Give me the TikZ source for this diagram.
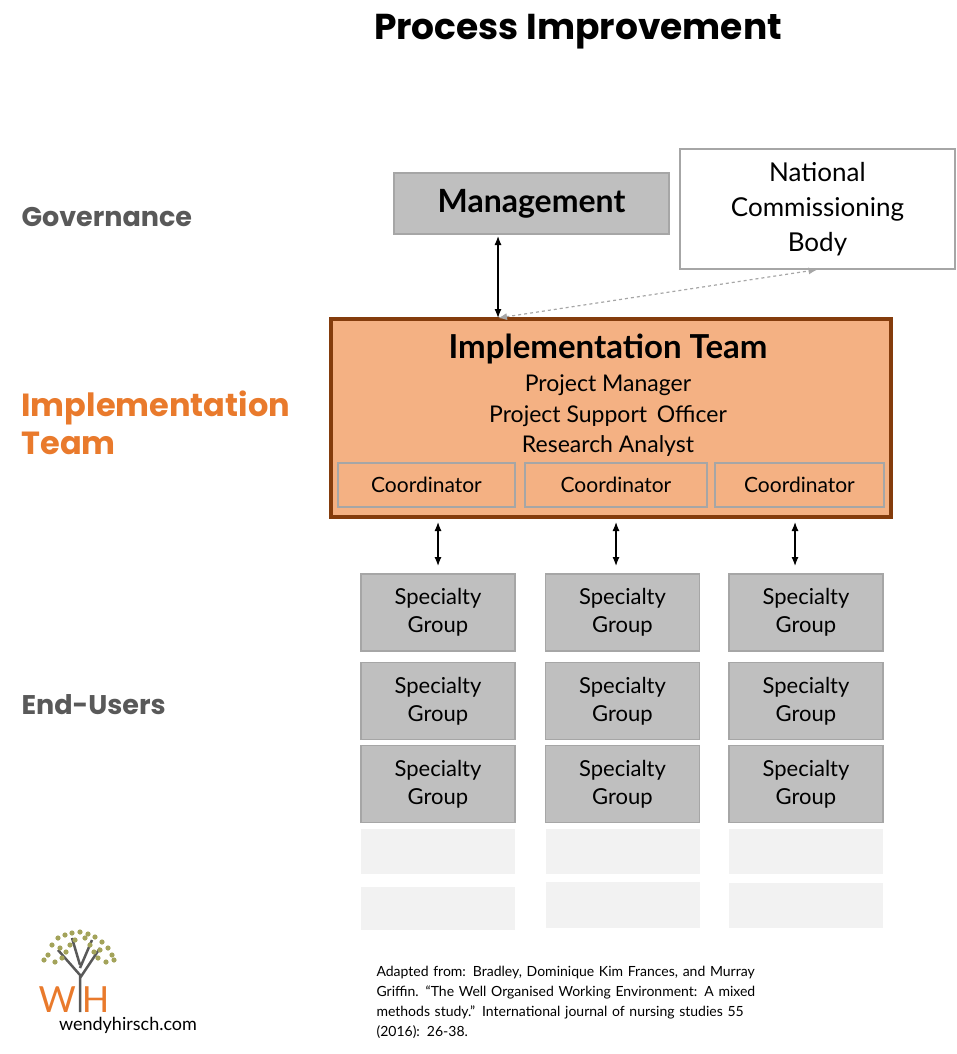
\documentclass[tikz,border=0pt]{standalone}
\usepackage{fontspec}
\setmainfont{Lato}
\newfontfamily\hfont{Poppins}
\usetikzlibrary{arrows.meta}
\definecolor{gbox}{HTML}{BFBFBF}
\definecolor{gedge}{HTML}{A6A6A6}
\definecolor{peach}{HTML}{F4B183}
\definecolor{brown}{HTML}{843C0C}
\definecolor{orng}{HTML}{E97A2C}
\definecolor{dgray}{HTML}{595959}
\definecolor{faint}{HTML}{F2F2F2}
\definecolor{leaf}{HTML}{A3A35A}
\tikzset{
 box/.style={draw=gedge,line width=1.2pt,fill=gbox,inner sep=0pt},
 spec/.style={box,minimum width=154pt,minimum height=77pt,font=\fontsize{22}{28}\selectfont,align=center},
 coord/.style={draw=gedge,line width=1.2pt,fill=peach,minimum height=44pt,font=\fontsize{21}{24}\selectfont,inner sep=0pt},
 ghost/.style={fill=faint,draw=none,minimum width=154pt,inner sep=0pt},
 side/.style={anchor=west,font=\hfont\bfseries\fontsize{27}{34}\selectfont,text=dgray,align=left},
 dbl/.style={{Latex[length=9pt,width=7pt]}-{Latex[length=9pt,width=7pt]},line width=1.2pt},
}
\begin{document}
\begin{tikzpicture}[x=1pt,y=-1pt]
\useasboundingbox (0,0) rectangle (956,1054);
\node (title) at (578,32) {\hfont\bfseries\fontsize{36}{40}\selectfont Process Improvement};
\node[side] (gov) at (18,217) {Governance};
\node[side,text=orng,font=\hfont\bfseries\fontsize{32}{38}\selectfont] (imp) at (18,423) {Implementation\\Team};
\node[side] (end) at (18,705) {End-Users};

\node[box,minimum width=275pt,minimum height=61pt] (mgmt) at (531.5,203.5) {\bfseries\fontsize{32}{36}\selectfont Management};
\node[draw=gedge,line width=1.2pt,fill=white,minimum width=275pt,minimum height=120pt,align=center,font=\fontsize{26}{35}\selectfont] (ncb) at (817.5,209) {National\\Commissioning\\Body};

\draw[draw=brown,line width=4pt,fill=peach] (331,319) rectangle (891,517);
\node (it) at (608,349) {\bfseries\fontsize{33}{36}\selectfont Implementation Team};
\node[align=center,font=\fontsize{23}{30.5}\selectfont] (roles) at (608,416) {Project Manager\\Project Support\, Officer\\Research Analyst};
\node[coord,minimum width=177pt] (c1) at (426.5,485) {Coordinator};
\node[coord,minimum width=182pt] (c2) at (616,485) {Coordinator};
\node[coord,minimum width=169pt] (c3) at (799.5,485) {Coordinator};
\coordinate (itop) at (498,318);
\coordinate (mb) at (498,236);
\draw[dbl] (mb) -- (itop);
\draw[dashed,line width=1.2pt,gedge,{Latex[length=9pt,width=7pt]}-{Latex[length=9pt,width=7pt]}] (itop) -- (ncb.south);

\foreach \c/\x/\ax in {1/438/438,2/622.5/616,3/806/795}{
 \node[spec] (s\c a) at (\x,612.5) {Specialty\\Group};
 \node[spec] (s\c b) at (\x,701) {Specialty\\Group};
 \node[spec] (s\c c) at (\x,784) {Specialty\\Group};
 \coordinate (t\c) at (\ax,522);
 \coordinate (u\c) at (\ax,566);
 \draw[dbl] (t\c) -- (u\c);
}
\node[ghost,minimum height=45pt] (g1a) at (438,851.5) {};
\node[ghost,minimum height=43pt] (g1b) at (438,908.5) {};
\node[ghost,minimum height=45pt] (g2a) at (622.5,851.5) {};
\node[ghost,minimum height=46pt] (g2b) at (622.5,905) {};
\node[ghost,minimum height=45pt] (g3a) at (806,851.5) {};
\node[ghost,minimum height=45pt] (g3b) at (806,905.5) {};

\node[anchor=north west,align=left,text width=480pt,font=\fontsize{14}{20}\selectfont] (cite) at (373,963) {Adapted from: Bradley, Dominique Kim Frances, and Murray\\Griffin. ``The Well Organised Working Environment: A mixed\\methods study.'' International journal of nursing studies 55\\(2016): 26-38.};

% logo
\draw[line width=2.5pt,dgray] (80,1012) -- (80,975) (80,975) -- (58,950) (80,978) -- (100,948) (80,965) -- (72,938) (80,968) -- (92,940);
\foreach \px/\py in {48/955,52/945,58/938,65/935,72/933,80/932,88/934,95/937,102/942,108/948,112/955,55/962,62/958,98/958,106/962,70/945,90/945,85/938,75/940,60/948,100/950,66/952,94/952,44/960,114/960}
 \fill[leaf] (\px,\py) circle (2.6pt);
\node[text=orng,font=\fontsize{36}{36}\selectfont] (wh) at (74,1000) {W\,H};
\node (site) at (128,1025) {\fontsize{18}{20}\selectfont wendyhirsch.com};
\end{tikzpicture}
\end{document}
